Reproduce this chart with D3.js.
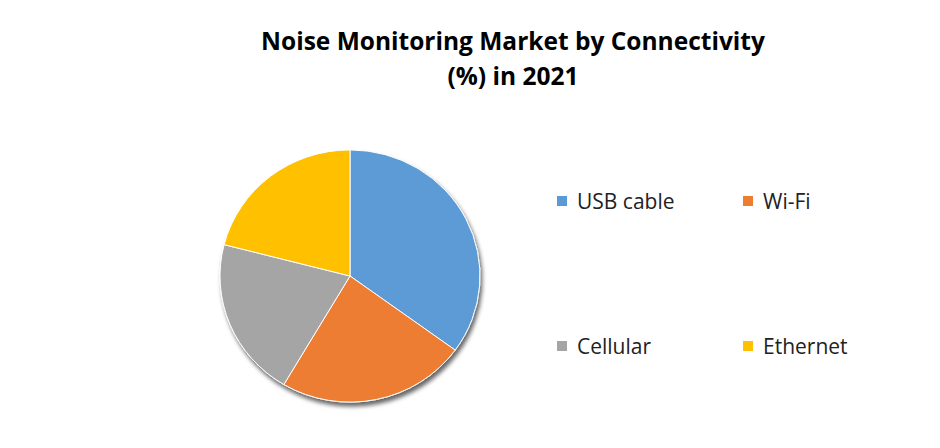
<!doctype html>
<html>
<head>
<meta charset="utf-8">
<script src="https://d3js.org/d3.v7.min.js"></script>
<style>body{margin:0;background:#fff;font-family:"Open Sans",sans-serif;}</style>
</head>
<body>
<svg width="940" height="448"></svg>
<script>
// chart data
var categories = ["USB cable", "Wi-Fi", "Cellular", "Ethernet"];
var shares = [35, 23.5, 20.5, 21];
var colors = ["#5b9bd5", "#ed7d31", "#a5a5a5", "#ffc000"];

var svg = d3.select("svg");
var defs = svg.append("defs");
var f = defs.append("filter").attr("id", "sh").attr("x", "-20%").attr("y", "-20%").attr("width", "140%").attr("height", "140%");
f.append("feDropShadow").attr("dx", 2).attr("dy", 4).attr("stdDeviation", 2).attr("flood-color", "#000").attr("flood-opacity", 0.6);

// title
svg.append("text").attr("x", 513).attr("y", 50).attr("text-anchor", "middle")
    .style("font-size", "24.5px").style("font-weight", "bold").text("Noise Monitoring Market by Connectivity");
svg.append("text").attr("x", 513).attr("y", 85).attr("text-anchor", "middle")
    .style("font-size", "24.5px").style("font-weight", "bold").text("(%) in 2021");

var pie = d3.pie().sort(null).value(function(d){ return d; });
var arc = d3.arc().innerRadius(0).outerRadius(130);
var g = svg.append("g").attr("filter", "url(#sh)")
    .append("g").attr("transform", "translate(350,276) scale(1,0.97)");
g.selectAll("path").data(pie(shares)).enter().append("path")
    .attr("d", arc)
    .attr("fill", function(d, i){ return colors[i]; })
    .attr("stroke", "#fff").attr("stroke-width", 1);

// legend
var lx = [562, 748, 562, 748], ly = [201, 201, 346, 346];
categories.forEach(function(c, i){
    svg.append("rect").attr("x", lx[i] - 5).attr("y", ly[i] - 5).attr("width", 10).attr("height", 10).attr("fill", colors[i]);
    svg.append("text").attr("x", lx[i] + 15).attr("y", ly[i] + 8).style("font-size", "21px").attr("fill", "#222").text(c);
});
</script>
</body>
</html>
